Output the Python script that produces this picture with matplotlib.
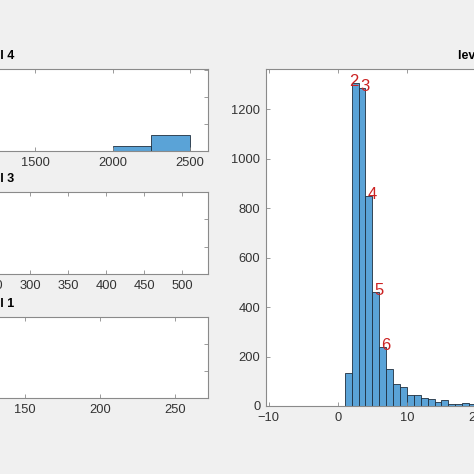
import matplotlib
matplotlib.use("Agg")
import matplotlib.pyplot as plt
import numpy as np

plt.rcParams['font.family'] = ['Liberation Sans', 'DejaVu Sans']

# Right panel histogram (bin width 1, starting at 1)
main_edges = np.arange(1, 31, 1)
main_counts = [135, 1305, 1285, 848, 462, 240, 150, 88, 78, 45, 43, 33, 28, 18, 23, 10, 7, 14, 8,
               5, 4, 3, 3, 2, 2, 1, 1, 1, 1]
peak_labels = ['2', '3', '4', '5', '6']
peak_bins = [1, 2, 3, 4, 5]

# Left panels
l4_edges = [2000, 2250, 2500]
l4_counts = [1, 3]
l3_edges = [250, 275, 300]
l3_counts = [8, 8]
l1_edges = [100, 130, 160, 190, 220, 260]
l1_counts = [3, 2, 2, 1, 1]

W = H = 474.0
fig = plt.figure(figsize=(4.74, 4.74), dpi=100, facecolor='#f0f0f0')
barc = '#5aa3d7'
edgec = '#1f2f3f'
ts = 9.3

def px(l, t, r, b):
    return [l / W, 1 - b / H, (r - l) / W, (b - t) / H]

def style(ax):
    ax.set_facecolor('white')
    for s in ax.spines.values():
        s.set_color('#8a8a8a'); s.set_linewidth(0.8)
    ax.tick_params(direction='in', length=3, width=0.6, colors='#8a8a8a',
                   labelcolor='#333333', labelsize=ts, top=True, right=True, pad=4)

def hist(ax, edges, counts):
    edges = np.asarray(edges, float)
    ax.bar(edges[:-1], counts, width=np.diff(edges), align='edge', color=barc,
           edgecolor=edgec, linewidth=0.6)

# level 4
ax = fig.add_axes(px(-120, 69, 208, 151)); style(ax)
hist(ax, l4_edges, l4_counts)
ax.set_xlim(500, 2616); ax.set_ylim(0, 15.2)
ax.set_xticks([1000, 1500, 2000, 2500]); ax.set_yticks([0, 5, 10, 15])
ax.set_yticklabels([])
fig.text(14 / W, 1 - 62 / H, 'level 4', ha='right', va='bottom', fontsize=9, weight='bold')

# level 3
ax = fig.add_axes(px(-120, 192, 208, 274)); style(ax)
hist(ax, l3_edges, l3_counts)
ax.set_xlim(102, 534); ax.set_ylim(0, 1500)
ax.set_xticks([150, 200, 250, 300, 350, 400, 450, 500]); ax.set_yticks([0, 500, 1000])
ax.set_yticklabels([])
fig.text(14 / W, 1 - 185 / H, 'level 3', ha='right', va='bottom', fontsize=9, weight='bold')

# level 1
ax = fig.add_axes(px(-120, 317, 208, 398)); style(ax)
hist(ax, l1_edges, l1_counts)
ax.set_xlim(53, 272); ax.set_ylim(0, 1500)
ax.set_xticks([100, 150, 200, 250]); ax.set_yticks([0, 500, 1000])
ax.set_yticklabels([])
fig.text(14 / W, 1 - 310 / H, 'level 1', ha='right', va='bottom', fontsize=9, weight='bold')

# main
ax = fig.add_axes(px(266, 69, 545, 406)); style(ax)
hist(ax, main_edges, main_counts)
ax.set_xlim(-10.4, 30); ax.set_ylim(0, 1362)
ax.set_xticks([-10, 0, 10, 20, 30]); ax.set_yticks(range(0, 1400, 200))
for lab, i in zip(peak_labels, peak_bins):
    x = main_edges[i] + (0.3 if i > 1 else -0.4)
    ax.text(x, main_counts[i] - 25, lab, color='#cc2222', fontsize=12, ha='left', va='bottom')
fig.text(458 / W, 1 - 62 / H, 'level 2', ha='left', va='bottom', fontsize=9, weight='bold')

fig.savefig('out.png', dpi=100, facecolor=fig.get_facecolor())
